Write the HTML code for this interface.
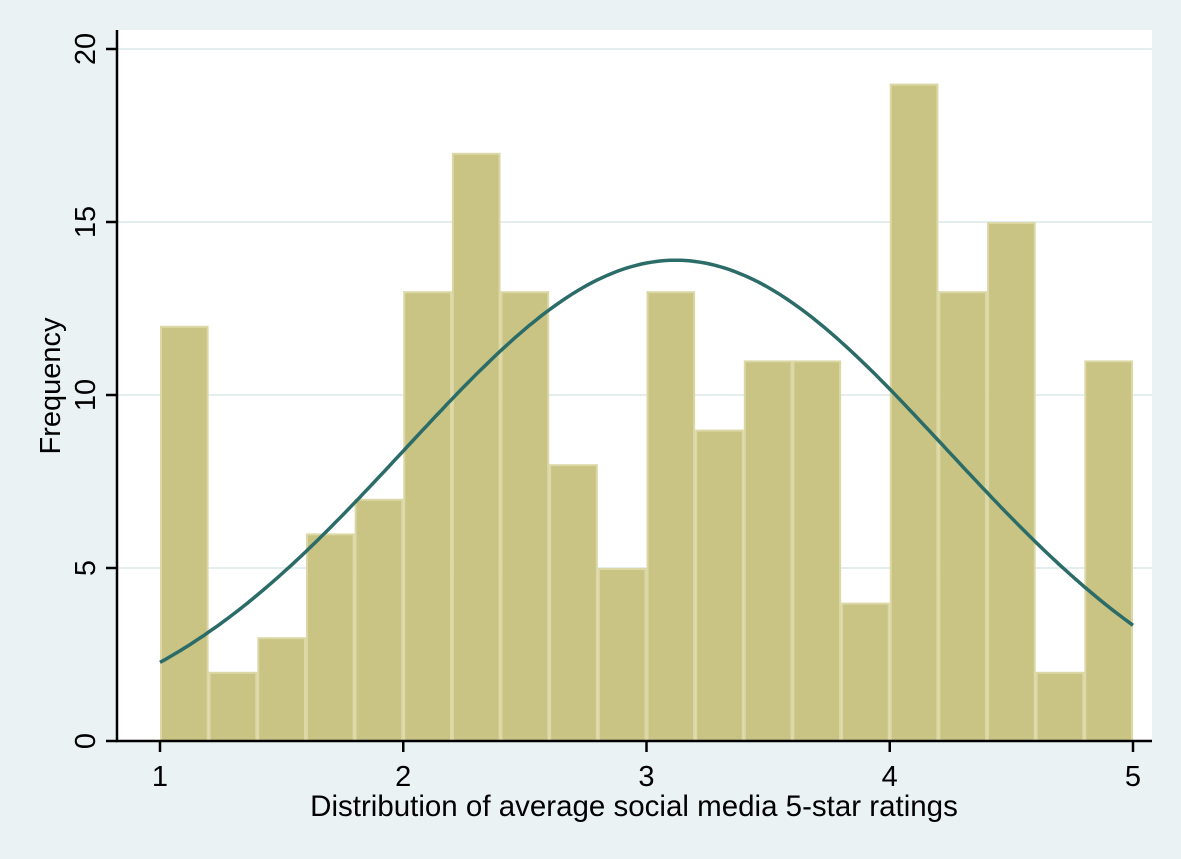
<!DOCTYPE html>
<html><head><meta charset="utf-8"><style>
body{margin:0;background:#eaf2f3;}
svg{display:block;font-family:"Liberation Sans",sans-serif;}
</style></head><body>
<svg width="1181" height="859">
<rect x="0" y="0" width="1181" height="859" fill="#eaf2f3"/>
<rect x="117" y="30" width="1035" height="711" fill="#ffffff"/>
<g id="grid"></g><g id="bars"></g><g id="curve"></g><g id="axes"></g>
<text x="634" y="816" font-size="29.5" text-anchor="middle">Distribution of average social media 5-star ratings</text>
<text transform="translate(60,386) rotate(-90)" font-size="29" text-anchor="middle">Frequency</text>
</svg>
<script>
const binStart = 1, binWidth = 0.2;
const counts = [12,2,3,6,7,13,17,13,8,5,13,9,11,11,4,19,13,15,2,11];
const xTicks = [1,2,3,4,5];
const yTicks = [0,5,10,15,20];
const normMean = 3.12, normSd = 1.114;
const NS='http://www.w3.org/2000/svg';
const X = v => 160 + (v-1)*243.25;
const Y = v => 741 - v*34.6;
function mk(tag, attrs, parent){const e=document.createElementNS(NS,tag);for(const k in attrs)e.setAttribute(k,attrs[k]);document.getElementById(parent).appendChild(e);return e;}
yTicks.forEach(t=>{ if(t>0){const g=mk('line',{x1:118,x2:1152,y1:Y(t),y2:Y(t),stroke:'#e4eeef','stroke-width':2},'grid');

}});
counts.forEach((c,i)=>{const x0=X(binStart+i*binWidth),x1=X(binStart+(i+1)*binWidth);
const r=mk('rect',{x:x0+1,y:Y(c)+1,width:x1-x0-2,height:Y(0)-Y(c)-1,fill:'#c9c384',stroke:'#dcd8a6','stroke-width':2},'bars');

});
const n = counts.reduce((a,b)=>a+b,0);
let d='';for(let k=0;k<=200;k++){const v=1+4*k/200;const z=(v-normMean)/normSd;const f=n*binWidth/(normSd*Math.sqrt(2*Math.PI))*Math.exp(-z*z/2);d+=(k?'L':'M')+X(v).toFixed(1)+','+Y(f).toFixed(1);}
const p=mk('path',{d:d,fill:'none',stroke:'#2b6c68','stroke-width':3.5},'curve');


const ax=mk('path',{d:'M117,30 V741 H1152',fill:'none',stroke:'#000','stroke-width':2.5},'axes');


xTicks.forEach(t=>{const l=mk('line',{x1:X(t),x2:X(t),y1:741,y2:752,stroke:'#000','stroke-width':2.5},'axes');


const tx=mk('text',{x:X(t),y:786,'font-size':29,'text-anchor':'middle'},'axes');tx.textContent=t;

});
yTicks.forEach(t=>{const l=mk('line',{x1:106,x2:117,y1:Y(t),y2:Y(t),stroke:'#000','stroke-width':2.5},'axes');


const tx=mk('text',{transform:'translate(95,'+Y(t)+') rotate(-90)','font-size':29,'text-anchor':'middle'},'axes');tx.textContent=t;

});
</script>
</body></html>
